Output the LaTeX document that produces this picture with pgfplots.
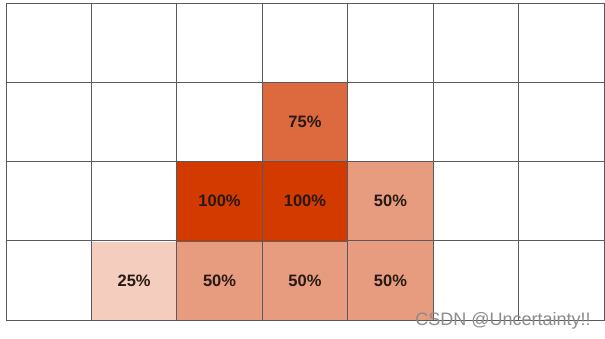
\documentclass[border=0pt]{standalone}
\usepackage{pgfplots}
\pgfplotsset{compat=1.18}
\usepackage{fontspec}
\setmainfont{Liberation Sans}
\definecolor{gridc}{RGB}{90,90,90}
\definecolor{lab}{RGB}{40,25,20}
\begin{document}
\begin{tikzpicture}
\begin{axis}[
  at={(0pt,0pt)}, anchor=south west,
  scale only axis, width=598pt, height=317pt,
  xmin=-0.5, xmax=6.5, ymin=-0.5, ymax=3.5,
  xtick={0.5,1.5,2.5,3.5,4.5,5.5}, ytick={0.5,1.5,2.5},
  xticklabels={}, yticklabels={}, major tick length=0pt,
  grid=major, major grid style={gridc, line width=0.9pt},
  axis line style={gridc, line width=0.9pt},
  axis on top,
  colormap={wr}{rgb255=(255,255,255) rgb255=(210,58,0)},
  point meta min=0, point meta max=100,
  clip=false,
]
\addplot[matrix plot*, mesh/cols=7, point meta=explicit] table[meta=c] {
x y c
0 0 0
1 0 25
2 0 50
3 0 50
4 0 50
5 0 0
6 0 0
0 1 0
1 1 0
2 1 100
3 1 100
4 1 50
5 1 0
6 1 0
0 2 0
1 2 0
2 2 0
3 2 75
4 2 0
5 2 0
6 2 0
0 3 0
1 3 0
2 3 0
3 3 0
4 3 0
5 3 0
6 3 0
};
\addplot[draw=none, mark=none, point meta=explicit symbolic,
  nodes near coords={\pgfplotspointmeta\%},
  nodes near coords style={anchor=center, font=\fontsize{16.5}{18}\selectfont\bfseries, text=lab}]
  table[meta=lab] {
x y lab
3 2 75
2 1 100
3 1 100
4 1 50
1 0 25
2 0 50
3 0 50
4 0 50
};
\end{axis}
\node[anchor=base, inner sep=0pt, text=black!45, font=\fontsize{18}{20}\selectfont] at (497pt,-6pt) {CSDN @Uncertainty!!};
\pgfresetboundingbox
\path (-6pt,-19pt) rectangle (599pt,320pt);
\end{tikzpicture}
\end{document}
